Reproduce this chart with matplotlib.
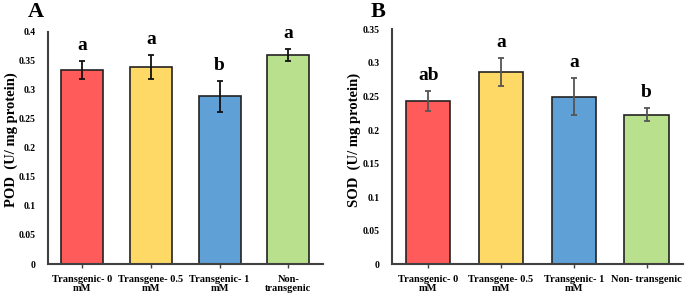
import matplotlib
matplotlib.use("Agg")
import matplotlib.pyplot as plt

plt.rcParams['font.family'] = ['Liberation Serif', 'DejaVu Serif']
plt.rcParams['font.weight'] = 'bold'

groups_a = ["Transgenic- 0\nmM", "Transgene- 0.5\nmM", "Transgenic- 1\nmM", "Non-\ntransgenic"]
groups_b = ["Transgenic- 0\nmM", "Transgene- 0.5\nmM", "Transgenic- 1\nmM", "Non- transgenic"]
colors = ["#FF5B5B", "#FFD966", "#5FA0D6", "#B9E08C"]

pod = [0.334, 0.339, 0.289, 0.360]
pod_err = [0.015, 0.021, 0.027, 0.010]
pod_letters = ["a", "a", "b", "a"]

sod = [0.243, 0.287, 0.250, 0.223]
sod_err = [0.015, 0.021, 0.027, 0.0095]
sod_letters = ["ab", "a", "a", "b"]

fig = plt.figure(figsize=(6.85, 2.94), dpi=100)
ax1 = fig.add_axes([0.070, 0.102, 0.401, 0.790])
ax2 = fig.add_axes([0.572, 0.101, 0.425, 0.799])


def panel(ax, vals, errs, letters, labels, ylim, step, ecolor, gap):
    x = list(range(len(vals)))
    ax.bar(x, vals, width=0.61, color=colors, edgecolor="#222222", linewidth=1.2, zorder=2)
    ax.errorbar(x, vals, yerr=errs, fmt="none", ecolor=ecolor, elinewidth=1.3,
                capsize=2, capthick=1.3, zorder=3)
    for xi, v, e, t in zip(x, vals, errs, letters):
        ax.annotate(t, (xi, v + e), xytext=(0, gap), textcoords="offset points",
                    ha="center", va="bottom", fontsize=14, fontweight="bold")
    ax.set_xlim(-0.5, 3.5)
    ax.set_ylim(0, ylim)
    n = int(round(ylim / step))
    ticks = [i * step for i in range(n + 1)]
    ax.set_yticks(ticks)
    ax.set_yticklabels(["0"] + ["%g" % round(t, 2) for t in ticks[1:]])
    ax.set_xticks(x)
    ax.set_xticklabels(labels, fontsize=7.5, fontweight="bold", linespacing=1.0)
    ax.tick_params(axis="y", length=0, labelsize=7, pad=9)
    ax.tick_params(axis="x", length=3, width=1, color="#404040", pad=5)
    for s in ["top", "right"]:
        ax.spines[s].set_visible(False)
    for s in ["left", "bottom"]:
        ax.spines[s].set_color("#404040")
        ax.spines[s].set_linewidth(1.5)


panel(ax1, pod, pod_err, pod_letters, groups_a, 0.4, 0.05, "#111111", 5)
panel(ax2, sod, sod_err, sod_letters, groups_b, 0.35, 0.05, "#555555", 5)

fig.text(11 / 685, 1 - 140 / 294, "POD  (U/ mg protein)", rotation=90, ha="center", va="center",
         fontsize=10.5, fontweight="bold")
fig.text(354 / 685, 1 - 140 / 294, "SOD  (U/ mg protein)", rotation=90, ha="center", va="center",
         fontsize=10.5, fontweight="bold")

fig.text(36 / 685, 1 - 12 / 294, "A", ha="center", va="center", fontsize=16, fontweight="bold")
fig.text(378 / 685, 1 - 12 / 294, "B", ha="center", va="center", fontsize=16, fontweight="bold")

fig.savefig("out.png", dpi=100)
